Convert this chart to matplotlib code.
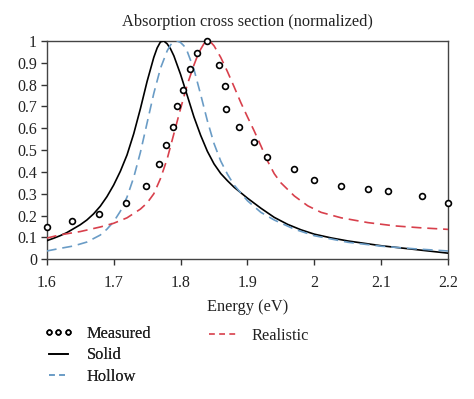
import matplotlib
matplotlib.use("Agg")
import matplotlib.pyplot as plt
from matplotlib.lines import Line2D

plt.rcParams['font.family'] = ['Liberation Serif', 'DejaVu Serif']

# Measured data points
meas_E = [1.600, 1.638, 1.678, 1.718, 1.748, 1.768, 1.778, 1.788, 1.794, 1.804,
          1.814, 1.824, 1.839, 1.858, 1.866, 1.868, 1.888, 1.909, 1.929, 1.969,
          2.000, 2.040, 2.080, 2.110, 2.160, 2.200]
meas_v = [0.150, 0.177, 0.209, 0.258, 0.337, 0.438, 0.522, 0.606, 0.701, 0.774,
          0.872, 0.945, 1.000, 0.890, 0.792, 0.690, 0.606, 0.536, 0.470, 0.415,
          0.365, 0.337, 0.322, 0.313, 0.292, 0.256]

# Solid sphere model
solid_E = [1.60, 1.61, 1.62, 1.63, 1.64, 1.65, 1.66, 1.67, 1.68, 1.69, 1.70, 1.71,
           1.72, 1.73, 1.74, 1.75, 1.755, 1.76, 1.765, 1.77, 1.775, 1.78, 1.785, 1.79,
           1.80, 1.81, 1.82, 1.83, 1.84, 1.85, 1.86, 1.87, 1.88, 1.90, 1.92, 1.94,
           1.96, 1.98, 2.00, 2.025, 2.05, 2.10, 2.15, 2.20]
solid_v = [0.085, 0.096, 0.108, 0.122, 0.140, 0.158, 0.180, 0.208, 0.243, 0.287, 0.340, 0.403,
           0.478, 0.575, 0.690, 0.815, 0.870, 0.925, 0.968, 0.996, 1.000, 0.987, 0.964, 0.932,
           0.847, 0.750, 0.652, 0.568, 0.495, 0.437, 0.393, 0.360, 0.330, 0.280, 0.234, 0.192,
           0.160, 0.135, 0.115, 0.098, 0.084, 0.062, 0.045, 0.028]

# Hollow sphere model
hollow_E = [1.60, 1.62, 1.64, 1.66, 1.68, 1.69, 1.70, 1.71, 1.72, 1.73, 1.74, 1.75,
            1.76, 1.77, 1.78, 1.785, 1.79, 1.795, 1.80, 1.805, 1.81, 1.82, 1.83, 1.84,
            1.85, 1.86, 1.87, 1.88, 1.90, 1.92, 1.94, 1.97, 2.00, 2.05, 2.10, 2.15, 2.20]
hollow_v = [0.038, 0.050, 0.061, 0.079, 0.111, 0.138, 0.172, 0.220, 0.285, 0.375, 0.490, 0.625,
            0.760, 0.875, 0.955, 0.982, 0.996, 1.000, 0.993, 0.978, 0.952, 0.870, 0.755, 0.635,
            0.530, 0.450, 0.390, 0.340, 0.268, 0.215, 0.180, 0.138, 0.108, 0.078, 0.060, 0.048, 0.038]

# Realistic model
real_E = [1.60, 1.62, 1.65, 1.68, 1.70, 1.72, 1.74, 1.75, 1.76, 1.77, 1.78, 1.79,
          1.80, 1.81, 1.82, 1.825, 1.83, 1.835, 1.84, 1.845, 1.85, 1.86, 1.87, 1.88,
          1.89, 1.90, 1.91, 1.92, 1.93, 1.94, 1.95, 1.97, 1.99, 2.01, 2.04, 2.08,
          2.12, 2.16, 2.20]
real_v = [0.097, 0.112, 0.127, 0.148, 0.165, 0.190, 0.230, 0.258, 0.300, 0.370, 0.460, 0.575,
          0.690, 0.800, 0.890, 0.930, 0.962, 0.988, 1.000, 0.995, 0.978, 0.925, 0.860, 0.790,
          0.718, 0.652, 0.588, 0.520, 0.450, 0.392, 0.350, 0.290, 0.245, 0.215, 0.190, 0.168,
          0.153, 0.144, 0.137]

xticks = [1.6, 1.7, 1.8, 1.9, 2.0, 2.1, 2.2]
xtick_labels = ['1.6', '1.7', '1.8', '1.9', '2', '2.1', '2.2']
yticks = [0, 0.1, 0.2, 0.3, 0.4, 0.5, 0.6, 0.7, 0.8, 0.9, 1.0]
ytick_labels = ['0', '0.1', '0.2', '0.3', '0.4', '0.5', '0.6', '0.7', '0.8', '0.9', '1']

blue = '#6a9cc6'
red = '#d8404c'
txt = '#222222'

fig = plt.figure(figsize=(4.74, 3.99), dpi=100)
ax = fig.add_axes([46.7/474, 1-259.3/399, (448.3-46.7)/474, (259.3-41)/399])

ax.plot(solid_E, solid_v, color='black', lw=1.2, label='Solid', zorder=3)
ax.plot(hollow_E, hollow_v, color=blue, lw=1.2, dashes=(6, 3.5), label='Hollow', zorder=3)
ax.plot(real_E, real_v, color=red, lw=1.2, dashes=(6, 3.5), label='Realistic', zorder=3)
ax.plot(meas_E, meas_v, linestyle='none', marker='o', ms=4.2, mfc='white', mec='black',
        mew=1.2, label='Measured', zorder=4, clip_on=False)

ax.set_xlim(1.6, 2.2)
ax.set_ylim(0, 1)
ax.set_xticks(xticks)
ax.set_xticklabels(xtick_labels)
ax.set_yticks(yticks)
ax.set_yticklabels(ytick_labels)
ax.tick_params(direction='out', length=4, width=1, colors='#333333', labelsize=11.5,
               labelcolor=txt)
ax.tick_params(axis='x', pad=7)
ax.tick_params(axis='y', pad=3)
for s in ax.spines.values():
    s.set_color('#444444')
    s.set_linewidth(1.0)

ax.set_title('Absorption cross section (normalized)', fontsize=11.8, color=txt, pad=11)
ax.set_xlabel('Energy (eV)', fontsize=11.8, color=txt, labelpad=6)

h_meas = Line2D([], [], linestyle='none', marker='o', ms=3.3, mfc='white', mec='black', mew=1.2)
h_solid = Line2D([], [], color='black', lw=1.2)
h_hollow = Line2D([], [], color=blue, lw=1.2, dashes=(3.5, 2.6))
h_real = Line2D([], [], color=red, lw=1.2, dashes=(3.5, 2.6))

leg1 = fig.legend([h_meas, h_solid, h_hollow], ['Measured', 'Solid', 'Hollow'],
                  loc='upper left', bbox_to_anchor=(44/474, 1-326/399), frameon=False,
                  fontsize=11.8, numpoints=3, handlelength=1.75, handletextpad=0.85,
                  labelspacing=0.33, borderpad=0, borderaxespad=0, labelcolor=txt)
leg2 = fig.legend([h_real], ['Realistic'],
                  loc='upper left', bbox_to_anchor=(209/474, 1-328/399), frameon=False,
                  fontsize=11.8, handlelength=1.75, handletextpad=0.85,
                  borderpad=0, borderaxespad=0, labelcolor=txt)
fig.add_artist(leg1)

fig.savefig('out.png', dpi=100)
